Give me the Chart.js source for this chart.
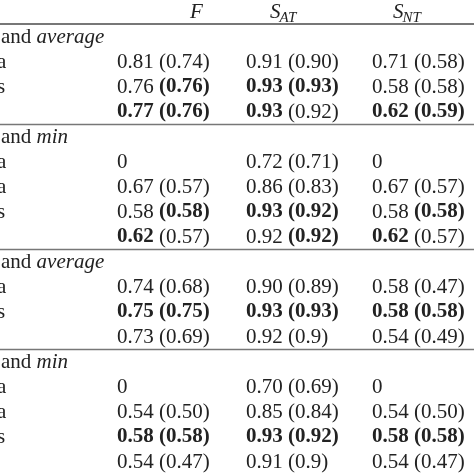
<!DOCTYPE html>
<html>
<head>
<meta charset="utf-8">
<script src="https://cdn.jsdelivr.net/npm/chart.js@4"></script>
<style>
  html, body { margin: 0; padding: 0; background: #fff; }
  canvas { display: block; }
</style>
</head>
<body>
<canvas id="tbl" width="474" height="474"></canvas>
<script>
// table content
const sectionWords = ['average', 'min', 'average', 'min'];
const sectionSizes = [3, 4, 3, 4];
const rowLabels = ['a', 's', '', 'a', 'a', 's', '', 'a', 's', '', 'a', 'a', 's', ''];
const columns = ['F', 'S_AT', 'S_NT'];

const valuesF = ['0.81 (0.74)', '0.76 (0.76)', '0.77 (0.76)',
  '0', '0.67 (0.57)', '0.58 (0.58)', '0.62 (0.57)',
  '0.74 (0.68)', '0.75 (0.75)', '0.73 (0.69)',
  '0', '0.54 (0.50)', '0.58 (0.58)', '0.54 (0.47)'];
const valuesSAT = ['0.91 (0.90)', '0.93 (0.93)', '0.93 (0.92)',
  '0.72 (0.71)', '0.86 (0.83)', '0.93 (0.92)', '0.92 (0.92)',
  '0.90 (0.89)', '0.93 (0.93)', '0.92 (0.9)',
  '0.70 (0.69)', '0.85 (0.84)', '0.93 (0.92)', '0.91 (0.9)'];
const valuesSNT = ['0.71 (0.58)', '0.58 (0.58)', '0.62 (0.59)',
  '0', '0.67 (0.57)', '0.58 (0.58)', '0.62 (0.57)',
  '0.58 (0.47)', '0.58 (0.58)', '0.54 (0.49)',
  '0', '0.54 (0.50)', '0.58 (0.58)', '0.54 (0.47)'];
// 0 = plain, 1 = first number bold, 2 = bracket bold, 3 = both
const boldF = [0, 2, 3, 0, 0, 2, 1, 0, 3, 0, 0, 0, 3, 0];
const boldSAT = [0, 3, 1, 0, 0, 3, 2, 0, 3, 0, 0, 0, 3, 0];
const boldSNT = [0, 0, 3, 0, 0, 2, 1, 0, 3, 0, 0, 0, 3, 0];

const colValues = [valuesF, valuesSAT, valuesSNT];
const colBold = [boldF, boldSAT, boldSNT];

// horizontal placement (x scale units = px) and font
const labelX = -3;
const colX = [117, 246, 372];
const headX = [190, 270, 393];
const SERIF = '"Liberation Serif", "DejaVu Serif", serif';
const SIZE = 21;

function font(bold, italic, size) {
  return (italic ? 'italic ' : '') + (bold ? 'bold ' : '') + (size || SIZE) + 'px ' + SERIF;
}

const tablePlugin = {
  id: 'tablePlugin',
  afterDraw(chart) {
    const ctx = chart.ctx;
    const xs = chart.scales.x, ys = chart.scales.y;
    const px = v => xs.getPixelForValue(v);
    const py = v => ys.getPixelForValue(v);
    ctx.save();
    ctx.fillStyle = '#222';
    ctx.textBaseline = 'middle';
    ctx.textAlign = 'left';

    const rule = (slot, w) => {
      ctx.strokeStyle = '#777';
      ctx.lineWidth = w;
      ctx.beginPath();
      ctx.moveTo(px(0), py(slot));
      ctx.lineTo(px(474), py(slot));
      ctx.stroke();
    };

    // column headers
    columns.forEach((c, i) => {
      const [main, sub] = c.split('_');
      ctx.font = font(false, true);
      ctx.fillText(main, px(headX[i]), py(0));
      if (sub) {
        const w = ctx.measureText(main).width;
        ctx.font = font(false, true, 15);
        ctx.fillText(sub, px(headX[i]) + w - 1, py(0) + 6);
      }
    });
    rule(0.48, 2);

    let slot = 1, row = 0;
    sectionWords.forEach((word, s) => {
      ctx.font = font(false, false);
      ctx.fillText('and ', px(1), py(slot));
      const w = ctx.measureText('and ').width;
      ctx.font = font(false, true);
      ctx.fillText(word, px(1) + w, py(slot));
      slot++;
      for (let r = 0; r < sectionSizes[s]; r++, row++, slot++) {
        ctx.font = font(false, false);
        ctx.fillText(rowLabels[row], px(labelX), py(slot));
        colValues.forEach((vals, c) => {
          const txt = vals[row];
          const b = colBold[c][row];
          const cut = txt.indexOf(' ');
          const first = cut < 0 ? txt : txt.slice(0, cut);
          let x = px(colX[c]);
          ctx.font = font(b & 1, false);
          ctx.fillText(first, x, py(slot));
          x += ctx.measureText(first).width;
          if (cut >= 0) {
            const rest = txt.slice(cut);
            ctx.font = font(b & 2, false);
            ctx.fillText(rest, x, py(slot));
          }
        });
      }
      if (s < sectionWords.length - 1) rule(slot - 0.5, 1.5);
    });
    ctx.restore();
  }
};

new Chart(document.getElementById('tbl'), {
  type: 'scatter',
  data: { datasets: [{ data: [] }] },
  options: {
    responsive: false,
    animation: false,
    layout: { padding: 0 },
    plugins: { legend: { display: false }, tooltip: { enabled: false } },
    scales: {
      x: { type: 'linear', min: 0, max: 474, display: false },
      y: { type: 'linear', min: -0.48, max: 18.48, reverse: true, display: false }
    }
  },
  plugins: [tablePlugin]
});
</script>
</body>
</html>
